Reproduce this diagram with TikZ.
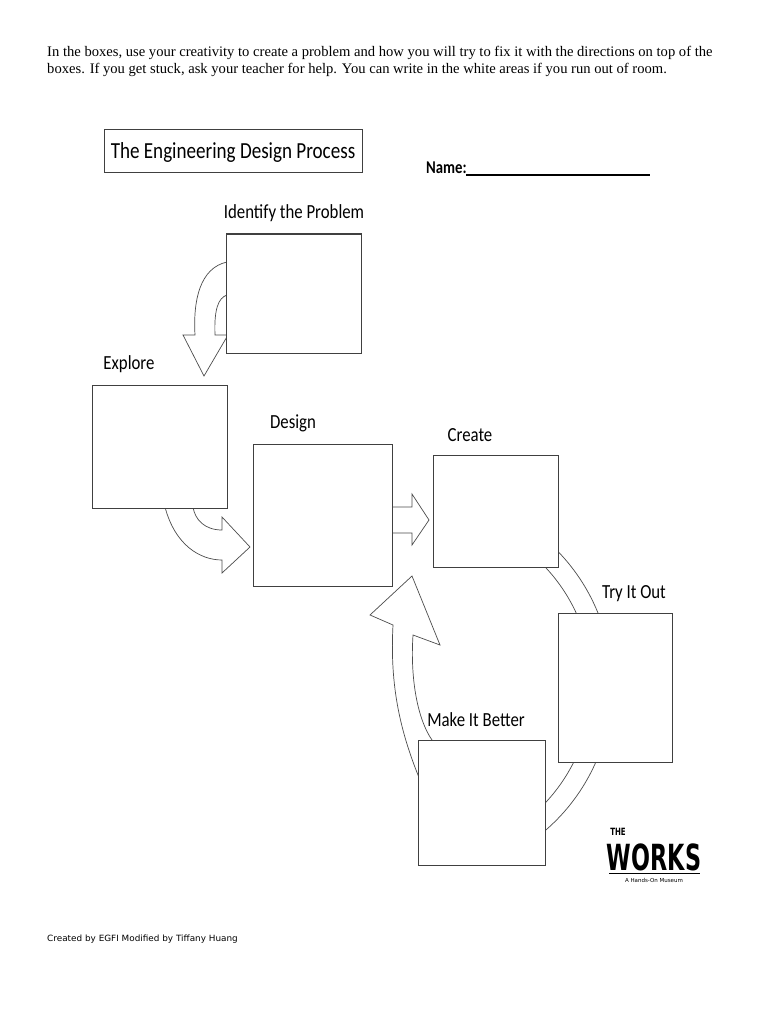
\documentclass[tikz,border=0pt]{standalone}
\usepackage{fontspec}
\setmainfont{Carlito}
\newfontfamily\serifnote{Liberation Serif}
\newfontfamily\smallsans{DejaVu Sans}
\usepackage{tikz}
\usetikzlibrary{positioning}

\begin{document}
\begin{tikzpicture}[x=1pt, y=-1pt,
	stepbox/.style={draw=black!75, line width=1pt, fill=white, inner sep=0pt},
	steplabel/.style={font=\fontsize{20}{20}\selectfont, inner sep=0pt, xscale=0.84},
	fatarrow/.style={draw=black!70, line width=0.7pt, fill=white}]
	\useasboundingbox (0,0) rectangle (768,1024);
	% Instructions on top of the page
	\node [anchor=north west, align=left, font=\serifnote\fontsize{14.6}{17}\selectfont, inner sep=0pt] (intro) at (47,46)
		{In the boxes, use your creativity to create a problem and how you will try to fix it with the directions on top of the\\
		boxes. If you get stuck, ask your teacher for help. You can write in the white areas if you run out of room.};
	% Title and name line
	\draw [draw=black!75, line width=1pt] (104,130) rectangle (362,173);
	\node [font=\fontsize{23}{23}\selectfont, inner sep=0pt, xscale=0.83] (title) at (233,152) {The Engineering Design Process};
	\node [anchor=west, font=\bfseries\fontsize{18}{18}\selectfont, inner sep=0pt, xscale=0.82] (name) at (426,168) {Name:};
	\draw [line width=1.3pt] (466,175) -- (650,175);
	% Ring from Create through Try It Out to Make It Better
	\draw [fatarrow] (420,685) ++(-50:192) arc [start angle=-50, end angle=52, radius=192]
		-- ++(232:20) arc [start angle=52, end angle=-50, radius=172] -- cycle;
	% Arrow from Make It Better back to Design
	\draw [fatarrow] (418,775) .. controls (398,725) and (390,680) .. (393,625) -- (370,615) -- (412,576) -- (440,645) -- (413,635) .. controls (410,680) and (418,720) .. (432,740) -- cycle;
	% Arrow from Identify the Problem to Explore
	\draw [fatarrow] (227,262) .. controls (200,268) and (193,300) .. (195,335) -- (183,335) -- (204,376) -- (228,335) -- (215,335) .. controls (214,310) and (218,298) .. (227,295) -- cycle;
	% Arrow from Explore to Design
	\draw [fatarrow] (165,507) .. controls (175,545) and (200,560) .. (222,560) -- (222,573) -- (250,547) -- (222,517) -- (222,530) .. controls (205,530) and (195,520) .. (193,507) -- cycle;
	% Arrow from Design to Create
	\draw [fatarrow] (392,507) -- (412,507) -- (412,494) -- (429,520) -- (412,545) -- (412,533) -- (392,533);
	% The boxes
	\node [stepbox, minimum width=135, minimum height=119] (identify) at (293.5,293.5) {};
	\node [stepbox, minimum width=135, minimum height=123] (explore) at (159.5,446.5) {};
	\node [stepbox, minimum width=139, minimum height=142] (design) at (322.5,515) {};
	\node [stepbox, minimum width=125, minimum height=112] (create) at (495.5,511) {};
	\node [stepbox, minimum width=114, minimum height=149] (tryout) at (615,687.5) {};
	\node [stepbox, minimum width=127, minimum height=125] (better) at (481.5,802.5) {};
	% Labels above the boxes
	\node [steplabel] at (294,213) {Identify the Problem};
	\node [steplabel] at (129,364) {Explore};
	\node [steplabel] at (293,423) {Design};
	\node [steplabel] at (470,435) {Create};
	\node [steplabel] at (634,594) {Try It Out};
	\node [steplabel] at (476,720) {Make It Better};
	% Logo
	\node [font=\smallsans\bfseries\fontsize{10}{10}\selectfont, inner sep=0pt, xscale=0.7] (logothe) at (618,832) {THE};
	\node [font=\smallsans\bfseries\fontsize{36}{36}\selectfont, inner sep=0pt, xscale=0.62] (logo) at (654,857) {WORKS};
	\draw [line width=0.8pt] (609,873) -- (700,873);
	\node [font=\smallsans\fontsize{5.5}{5.5}\selectfont, inner sep=0pt] (logosub) at (654,880) {A \textsc{Hands-On Museum}};
	% Footer
	\node [anchor=west, font=\smallsans\fontsize{8.6}{8.6}\selectfont, inner sep=0pt, xscale=1.03] (footer) at (47,939) {Created by EGFI Modified by Tiffany Huang};
\end{tikzpicture}
\end{document}
